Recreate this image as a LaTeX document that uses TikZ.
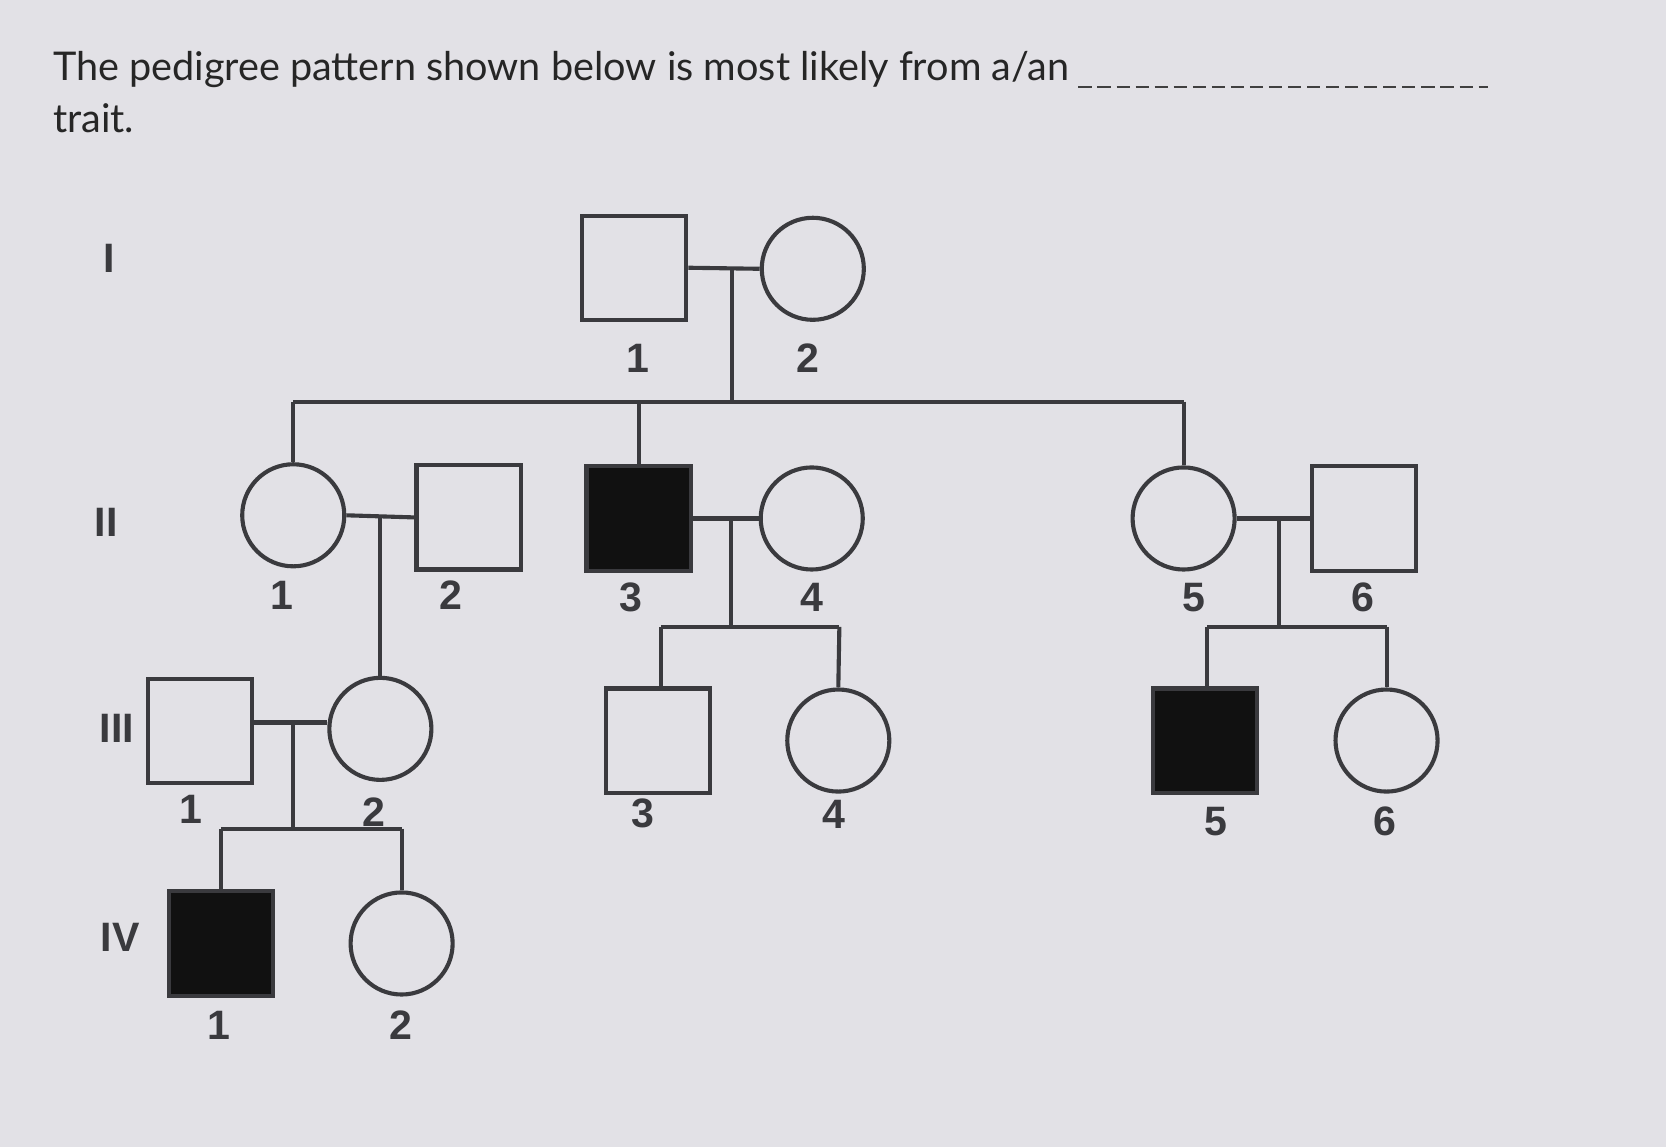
\documentclass[tikz,border=0pt]{standalone}
\usepackage{fontspec}
\setmainfont{Lato}
\newfontfamily\lab{Liberation Sans}
\definecolor{bg}{HTML}{E2E1E6}
\definecolor{ln}{HTML}{3A3A3E}
\definecolor{fl}{HTML}{111111}
\begin{document}
\begin{tikzpicture}[x=0.01cm,y=-0.01cm,
  line width=1.1pt,
  sq/.style={draw=ln,minimum size=0.98cm,inner sep=0,line width=1.1pt},
  aff/.style={sq,fill=fl},
  ci/.style={draw=ln,circle,minimum size=0.96cm,inner sep=0,line width=1.1pt},
  num/.style={font=\lab\bfseries\fontsize{11pt}{11pt}\selectfont,text=ln},
  gen/.style={font=\lab\bfseries\fontsize{11pt}{11pt}\selectfont,text=ln},
  conn/.style={draw=ln}]
\fill[bg] (0,0) rectangle (1568,1080);
\useasboundingbox (0,0) rectangle (1568,1080);
\node[anchor=base west,inner sep=0,font=\fontsize{10.6pt}{10.6pt}\selectfont,text=black!85] (t1) at (48,76) {The pedigree pattern shown below is most likely from a/an};
\node[anchor=base west,inner sep=0,font=\fontsize{10.6pt}{10.6pt}\selectfont,text=black!85] (t2) at (48,125) {trait.};
\coordinate (b1) at (1015,82); \coordinate (b2) at (1400,82);
\draw[black!75,line width=0.6pt,dash pattern=on 3.5pt off 1.6pt] (b1) -- (b2);
% generation labels
\node[gen] (gI) at (103,243) {I};
\node[gen] (gII) at (100,492) {II};
\node[gen] (gIII) at (110,686) {III};
\node[gen] (gIV) at (113,882) {IV};
% gen I
\node[sq] (i1) at (597,252) {};
\node[ci] (i2) at (765,253) {};
\node[num] (li1) at (600,337) {1};
\node[num] (li2) at (760,337) {2};
\draw[conn] (i1.east) -- (i2.west);
\coordinate (d1) at (689,253); \coordinate (s1) at (689,378);
\draw[conn] (d1) -- (s1);
\coordinate (sL) at (276,378); \coordinate (sR) at (1114,378); \coordinate (sM) at (601,378);
\draw[conn] (sL) -- (sR);
% gen II
\node[ci] (ii1) at (276,485) {};
\node[sq] (ii2) at (441,487) {};
\node[aff] (ii3) at (601,488) {};
\node[ci] (ii4) at (764,488) {};
\node[ci] (ii5) at (1114,488) {};
\node[sq] (ii6) at (1284,488) {};
\draw[conn] (sL) -- (ii1.north); \draw[conn] (sM) -- (ii3.north); \draw[conn] (sR) -- (ii5.north);
\draw[conn] (ii1.east) -- (ii2.west);
\draw[conn] (ii3.east) -- (ii4.west);
\draw[conn] (ii5.east) -- (ii6.west);
\node[num] at (265,560) {1};
\node[num] at (424,560) {2};
\node[num] at (594,562) {3};
\node[num] at (764,562) {4};
\node[num] at (1124,562) {5};
\node[num] at (1283,562) {6};
% gen III
\node[sq] (iii1) at (188,688) {};
\node[ci] (iii2) at (358,686) {};
\node[sq] (iii3) at (619,697) {};
\node[ci] (iii4) at (789,697) {};
\node[aff] (iii5) at (1134,697) {};
\node[ci] (iii6) at (1305,697) {};
\coordinate (c2) at (358,487);
\draw[conn] (c2) -- (iii2.north);
\coordinate (c3a) at (688,489); \coordinate (c3b) at (688,590);
\draw[conn] (c3a) -- (c3b);
\coordinate (s3L) at (622,590); \coordinate (s3R) at (790,590);
\draw[conn] (s3L) -- (s3R);
\draw[conn] (s3L) -- (622,648); \draw[conn] (s3R) -- (iii4.north);
\coordinate (c5a) at (1204,489); \coordinate (c5b) at (1204,590);
\draw[conn] (c5a) -- (c5b);
\coordinate (s5L) at (1136,590); \coordinate (s5R) at (1305,590);
\draw[conn] (s5L) -- (s5R);
\draw[conn] (s5L) -- (1136,648); \draw[conn] (s5R) -- (iii6.north);
\draw[conn] (iii1.east |- 0,680) -- (iii2.west |- 0,680);
\node[num] at (180,762) {1};
\node[num] at (352,764) {2};
\node[num] at (605,766) {3};
\node[num] at (785,766) {4};
\node[num] at (1144,773) {5};
\node[num] at (1303,773) {6};
% gen IV
\node[aff] (iv1) at (208,888) {};
\node[ci] (iv2) at (378,888) {};
\coordinate (c6a) at (276,680); \coordinate (c6b) at (276,780);
\draw[conn] (c6a) -- (c6b);
\coordinate (s6L) at (208,780); \coordinate (s6R) at (378,780);
\draw[conn] (s6L) -- (s6R);
\draw[conn] (s6L) -- (iv1.north); \draw[conn] (s6R) -- (iv2.north);
\node[num] at (206,965) {1};
\node[num] at (377,965) {2};
\end{tikzpicture}
\end{document}
